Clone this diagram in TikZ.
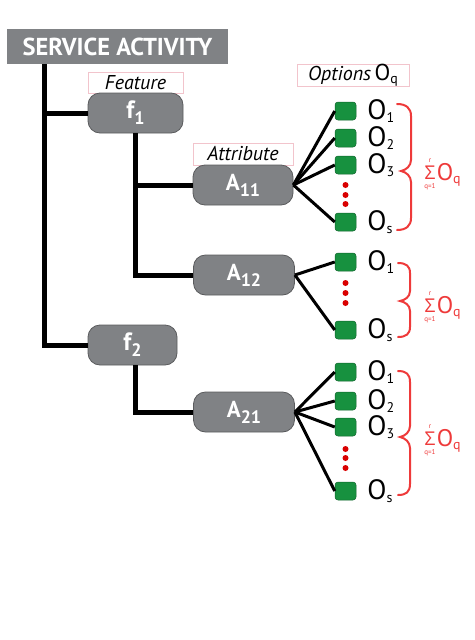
\documentclass[tikz,border=0pt]{standalone}
\usepackage{fontspec}
\setmainfont{PT Sans}
\newfontfamily\sigmafont{Open Sans}
\usetikzlibrary{positioning}
\definecolor{boxgray}{HTML}{808285}
\definecolor{edgegray}{HTML}{5A5B5D}
\definecolor{optgreen}{HTML}{17913F}
\definecolor{bracered}{HTML}{EE3A3A}
\definecolor{labelpink}{HTML}{F2C4CC}
\newcommand{\nsub}[1]{\raisebox{-6pt}{\fontsize{18}{18}\selectfont #1}}
\newcommand{\osub}[1]{\raisebox{-3pt}{\fontsize{14}{14}\selectfont #1}}
\tikzset{%
	every tree box/.style={
		rectangle,
		rounded corners=12pt,
		fill=boxgray,
		draw=edgegray,
		line width=0.8pt,
		text=white,
		inner sep=0pt,
		minimum height=40pt
	},
	feature box/.style={
		every tree box,
		minimum width=95pt,
		font=\fontsize{25}{25}\selectfont\bfseries
	},
	attribute box/.style={
		every tree box,
		minimum width=101pt,
		font=\fontsize{23}{23}\selectfont\bfseries
	},
	caption box/.style={
		draw=labelpink,
		line width=0.5pt,
		inner sep=0pt,
		font=\fontsize{20}{20}\selectfont\itshape
	},
	option/.style={
		rectangle,
		rounded corners=3pt,
		fill=optgreen,
		draw=optgreen!70!black,
		line width=0.5pt,
		minimum width=21pt,
		minimum height=18pt,
		inner sep=0pt
	},
	option label/.style={
		anchor=west,
		inner sep=0pt,
		font=\fontsize{28}{28}\selectfont
	},
	option dot/.style={
		circle,
		fill=red!85!black,
		minimum size=6pt,
		inner sep=0pt
	},
	sum sign/.style={
		inner sep=0pt,
		text=bracered,
		font=\sigmafont\fontsize{19}{19}\selectfont
	},
	sum limit/.style={
		inner sep=0pt,
		text=bracered,
		font=\fontsize{7}{7}\selectfont
	},
	sum label/.style={
		inner sep=0pt,
		text=bracered,
		font=\fontsize{24}{24}\selectfont
	},
	tree line/.style={line width=5pt, line join=miter},
	option line/.style={line width=3pt},
	brace line/.style={draw=bracered, line width=2pt, line cap=round},
}
\begin{document}
\begin{tikzpicture}[x=1pt, y=-1pt]
	\useasboundingbox (0,0) rectangle (474,640);
	
	% Draw the title box
	\node[rectangle, fill=boxgray, text=white, inner sep=0pt, minimum width=221pt, minimum height=35pt,
		font=\fontsize{24.5}{24.5}\selectfont\bfseries] (activity) at (117.5,46.5) {SERVICE ACTIVITY};
	
	% Draw the captions
	\node[caption box, minimum width=95pt, minimum height=21pt] (featuretag) at (135.5,82.5) {Feature};
	\node[caption box, minimum width=100pt, minimum height=22pt] (attributetag) at (243,154) {Attribute};
	\node[caption box, minimum width=112pt, minimum height=20pt] (optionstag) at (353,75)
		{Options\,{\upshape\fontsize{23}{23}\selectfont O\osub{q}}};
	
	% Draw the features and attributes
	\node[feature box] (f1) at (135.5,113) {f\nsub{1}};
	\node[feature box, minimum width=89pt] (f2) at (132.5,345) {f\nsub{2}};
	\node[attribute box, minimum width=100pt] (a11) at (243,185) {A\nsub{11}};
	\node[attribute box] (a12) at (244,275) {A\nsub{12}};
	\node[attribute box] (a21) at (244,412) {A\nsub{21}};
	
	% Draw the tree lines
	\coordinate (trunk) at (44,64);
	\draw[tree line] (trunk) |- (f1.west);
	\draw[tree line] (trunk) |- (f2.west);
	\draw[tree line] (f1.south) |- (a11.west);
	\draw[tree line] (f1.south) |- (a12.west);
	\draw[tree line] ([xshift=3pt]f2.south) |- (a21.west);
	
	% Draw the options of A11
	\node[option] (o11) at (345.5,111) {};
	\node[option] (o12) at (345.5,138) {};
	\node[option] (o13) at (345.5,165) {};
	\node[option] (o1s) at (345.5,222) {};
	\node[option dot] (d11) at (345.5,185) {};
	\node[option dot] (d12) at (345.5,195) {};
	\node[option dot] (d13) at (345.5,204) {};
	\draw[option line] (a11.east) -- (o11.west);
	\draw[option line] (a11.east) -- (o12.west);
	\draw[option line] (a11.east) -- (o13.west);
	\draw[option line] (a11.east) -- (o1s.west);
	\node[option label, right=11pt of o11] {O\osub{1}};
	\node[option label, right=11pt of o12] {O\osub{2}};
	\node[option label, right=11pt of o13] {O\osub{3}};
	\node[option label, right=11pt of o1s] {O\osub{s}};
	
	% Draw the options of A12
	\node[option] (o21) at (345.5,262) {};
	\node[option] (o2s) at (345.5,330) {};
	\node[option dot] (d21) at (345.5,283) {};
	\node[option dot] (d22) at (345.5,293) {};
	\node[option dot] (d23) at (345.5,303) {};
	\draw[option line] (a12.east) -- (o21.west);
	\draw[option line] (a12.east) -- (o2s.west);
	\node[option label, right=11pt of o21] {O\osub{1}};
	\node[option label, right=11pt of o2s] {O\osub{s}};
	
	% Draw the options of A21
	\node[option] (o31) at (345.5,372) {};
	\node[option] (o32) at (345.5,401) {};
	\node[option] (o33) at (345.5,427) {};
	\node[option] (o3s) at (345.5,491) {};
	\node[option dot] (d31) at (345.5,449) {};
	\node[option dot] (d32) at (345.5,458) {};
	\node[option dot] (d33) at (345.5,468) {};
	\draw[option line] (a21.east) -- (o31.west);
	\draw[option line] (a21.east) -- (o32.west);
	\draw[option line] (a21.east) -- (o33.west);
	\draw[option line] (a21.east) -- (o3s.west);
	\node[option label, right=11pt of o31] {O\osub{1}};
	\node[option label, right=11pt of o32] {O\osub{2}};
	\node[option label, right=11pt of o33] {O\osub{3}};
	\node[option label, right=11pt of o3s] {O\osub{s}};
	
	% Draw the braces
	\draw[brace line] (397,104) .. controls (406,104) and (411,108) .. (411,116) -- (411,160)
		.. controls (411,166) and (406,170) .. (401,171) .. controls (406,172) and (411,176) .. (411,182)
		-- (411,218) .. controls (411,226) and (406,230) .. (397,230);
	\draw[brace line] (398,263) .. controls (406,263) and (410,266) .. (410,273) -- (410,291)
		.. controls (410,297) and (405,300) .. (400,301) .. controls (405,302) and (410,305) .. (410,311)
		-- (410,327) .. controls (410,334) and (406,337) .. (398,337);
	\draw[brace line] (398,371) .. controls (406,371) and (410,374) .. (410,382) -- (410,426)
		.. controls (410,432) and (405,436) .. (400,437) .. controls (405,438) and (410,442) .. (410,448)
		-- (410,484) .. controls (410,492) and (406,495) .. (398,495);
	
	% Draw the sums
	\node[sum sign] (sigma1) at (430,173) {Σ};
	\node[sum limit, above=3pt of sigma1] (top1) {r};
	\node[sum limit, below=3pt of sigma1] (bottom1) {q=1};
	\node[sum label, right=1pt of sigma1, yshift=-2pt] (sum1) {O\osub{q}};
	
	\node[sum sign] (sigma2) at (430,306) {Σ};
	\node[sum limit, above=3pt of sigma2] (top2) {r};
	\node[sum limit, below=3pt of sigma2] (bottom2) {q=1};
	\node[sum label, right=1pt of sigma2, yshift=-2pt] (sum2) {O\osub{q}};
	
	\node[sum sign] (sigma3) at (430,439) {Σ};
	\node[sum limit, above=3pt of sigma3] (top3) {r};
	\node[sum limit, below=3pt of sigma3] (bottom3) {q=1};
	\node[sum label, right=1pt of sigma3, yshift=-2pt] (sum3) {O\osub{q}};
	
\end{tikzpicture}
\end{document}
